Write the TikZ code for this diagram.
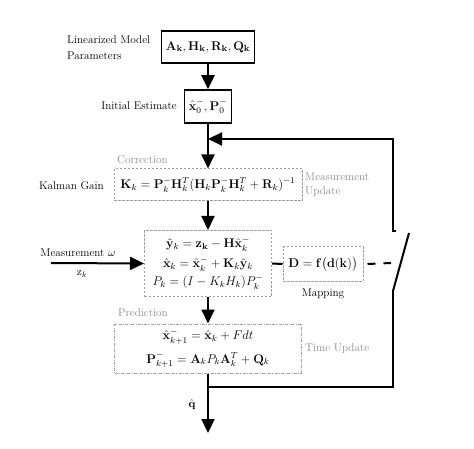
\RequirePackage{fix-cm}
\documentclass[tikz,border=0pt]{standalone}
\usepackage{amsmath}
\usetikzlibrary{arrows.meta}
\newcommand{\mfont}{\fontsize{12.6}{15}\selectfont}
\begin{document}
\begin{tikzpicture}[x=1pt,y=-1pt,
  font=\fontsize{11.2}{13.5}\selectfont,
  solidbox/.style={draw,line width=1.6pt,inner sep=2pt,font=\mfont},
  dbox/.style={draw=gray!75,line width=1pt,dash pattern=on 2.5pt off 1.5pt,inner sep=2pt,font=\mfont},
  ddbox/.style={draw=gray!75,line width=1pt,dash pattern=on 3pt off 1.2pt on 1pt off 1.2pt,inner sep=2pt,font=\mfont},
  glabel/.style={text=gray!90,inner sep=0pt},
  plabel/.style={inner sep=0pt},
  flow/.style={line width=2pt,-{Triangle[length=14pt,width=13pt]}},
  wire/.style={line width=2pt},
]
\useasboundingbox (0,0) rectangle (474,449);
% boxes
\node[solidbox,minimum width=93pt,minimum height=32pt] (params) at (208,47) {$\mathbf{A_k},\mathbf{H_k},\mathbf{R_k},\mathbf{Q_k}$};
\node[solidbox,minimum width=47pt,minimum height=33pt] (init) at (208,106.5) {$\hat{\mathbf{x}}_0^-,\mathbf{P}_0^-$};
\node[dbox,minimum width=188pt,minimum height=32pt] (kalman) at (208,185) {$\mathbf{K}_k=\mathbf{P}_k^-\mathbf{H}_k^T(\mathbf{H}_k\mathbf{P}_k^-\mathbf{H}_k^T+\mathbf{R}_k)^{-1}$};
\node[dbox,minimum width=127pt,minimum height=66pt,align=center,inner sep=0pt] (update) at (208,263.5)
  {$\tilde{\mathbf{y}}_k=\mathbf{z_k}-\mathbf{H}\hat{\mathbf{x}}_k^-$\\[5pt]
   $\hat{\mathbf{x}}_k=\hat{\mathbf{x}}_k^-+\mathbf{K}_k\tilde{\mathbf{y}}_k$\\[3pt]
   $P_k=(I-K_kH_k)P_k^-$};
\node[dbox,minimum width=80pt,minimum height=34pt] (mapping) at (323,264) {$\mathbf{D}=\mathbf{f}\big(\mathbf{d}(\mathbf{k})\big)$};
\node[ddbox,minimum width=187pt,minimum height=49pt,align=center,inner sep=0pt] (predict) at (208,348.5)
  {$\hat{\mathbf{x}}_{k+1}^-=\hat{\mathbf{x}}_k+Fdt$\\[7pt]
   $\mathbf{P}_{k+1}^-=\mathbf{A}_kP_k\mathbf{A}_k^T+\mathbf{Q}_k$};
% labels
\node[plabel,anchor=west] (lm1) at (67,40) {Linearized Model};
\node[plabel,anchor=west] (lm2) at (67,56) {Parameters};
\node[plabel,anchor=east] (ie) at (177,106) {Initial Estimate};
\node[plabel,anchor=east] (kg) at (104,186) {Kalman Gain};
\node[glabel,anchor=west] (corr) at (117,160) {Correction};
\node[glabel,anchor=west,align=left] (mu) at (305,185) {Measurement\\Update};
\node[plabel] (meas) at (78,253) {Measurement $\mfont\omega$};
\node[plabel] (zk) at (82,274) {$\mfont\mathrm{z}_k$};
\node[plabel] (mapl) at (323,294) {Mapping};
\node[glabel,anchor=west] (pred) at (118,313) {Prediction};
\node[glabel,anchor=west] (tu) at (305,349) {Time Update};
\node[plabel] (qh) at (192,405) {$\mfont\hat{\mathbf{q}}$};
% coordinates
\coordinate (min) at (51,263);
\coordinate (hook) at (396,231);
\coordinate (swup) at (393,231);
\coordinate (fbtop) at (393,139);
\coordinate (fbin) at (208,139);
\coordinate (swtip) at (409,233);
\coordinate (swpiv) at (393,291);
\coordinate (bot) at (393,387);
\coordinate (botj) at (208,387);
\coordinate (out) at (208,433);
\coordinate (dend) at (391,263);
% connectors
\draw[flow] (params.south) -- (init.north);
\draw[flow] (init.south) -- (kalman.north);
\draw[flow] (kalman.south) -- (update.north);
\draw[flow] (update.south) -- (predict.north);
\draw[flow] (predict.south) -- (out);
\draw[flow] (min) -- (update.west);
\draw[flow] (hook) -- (swup) -- (fbtop) -- (fbin);
\draw[wire] (swpiv) -- (swtip);
\draw[wire] (swpiv) -- (bot) -- (botj);
\draw[wire] (update.east) -- (mapping.west);
\draw[wire,dash pattern=on 8pt off 8pt] (mapping.east) ++(4pt,0) -- (dend);
\end{tikzpicture}
\end{document}
